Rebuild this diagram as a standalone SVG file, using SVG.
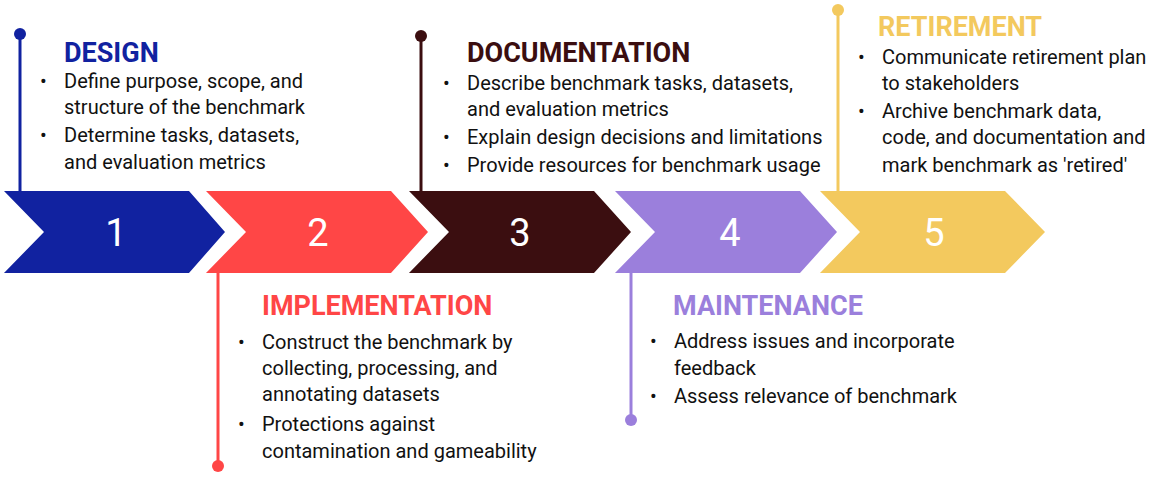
<svg xmlns="http://www.w3.org/2000/svg" width="1151" height="478" viewBox="0 0 1151 478">
<style>
.t{font-family:Roboto,"Liberation Sans",sans-serif;font-weight:bold;font-size:27px}
.b{font-family:Roboto,"Liberation Sans",sans-serif;font-size:20px;fill:#111}
.n{font-family:Roboto,"Liberation Sans",sans-serif;font-size:38px;fill:#fff;text-anchor:middle}
</style>
<rect width="1151" height="478" fill="#fff"/>
<g id="connectors" stroke-width="3">
<line x1="20" y1="34" x2="20" y2="191" stroke="#1122a0"/><circle cx="20" cy="34" r="6" fill="#1122a0"/>
<line x1="218" y1="273" x2="218" y2="466" stroke="#ff4646"/><circle cx="218" cy="466" r="6" fill="#ff4646"/>
<line x1="421" y1="36" x2="421" y2="191" stroke="#3b0e10"/><circle cx="421" cy="36" r="6" fill="#3b0e10"/>
<line x1="631" y1="273" x2="631" y2="420" stroke="#9b7fdc"/><circle cx="631" cy="420" r="6" fill="#9b7fdc"/>
<line x1="838" y1="10" x2="838" y2="191" stroke="#f3c95e"/><circle cx="838" cy="10" r="6" fill="#f3c95e"/>
</g>
<g id="step1"><polygon points="4,191 189,191 225,232 189,273 4,273 44,232" fill="#1122a0"/><text class="n" x="116" y="246">1</text>
<text class="t" x="64" y="62" fill="#1122a0">DESIGN</text>
<text class="b"><tspan x="40" y="88">•</tspan><tspan x="64" y="88">Define purpose, scope, and</tspan><tspan x="64" y="114">structure of the benchmark</tspan><tspan x="40" y="142">•</tspan><tspan x="64" y="142">Determine tasks, datasets,</tspan><tspan x="64" y="169">and evaluation metrics</tspan></text></g>
<g id="step2"><polygon points="206,191 391,191 428,232 391,273 206,273 246,232" fill="#ff4646"/><text class="n" x="318" y="246">2</text>
<text class="t" x="262" y="315" fill="#ff4646">IMPLEMENTATION</text>
<text class="b"><tspan x="238" y="349">•</tspan><tspan x="262" y="349">Construct the benchmark by</tspan><tspan x="262" y="375">collecting, processing, and</tspan><tspan x="262" y="401">annotating datasets</tspan><tspan x="238" y="431">•</tspan><tspan x="262" y="431">Protections against</tspan><tspan x="262" y="458">contamination and gameability</tspan></text></g>
<g id="step3"><polygon points="409,191 594,191 631,232 594,273 409,273 449,232" fill="#3b0e10"/><text class="n" x="520" y="246">3</text>
<text class="t" x="467" y="62" fill="#3b0e10">DOCUMENTATION</text>
<text class="b"><tspan x="443" y="90">•</tspan><tspan x="467" y="90">Describe benchmark tasks, datasets,</tspan><tspan x="467" y="116">and evaluation metrics</tspan><tspan x="443" y="144">•</tspan><tspan x="467" y="144">Explain design decisions and limitations</tspan><tspan x="443" y="172">•</tspan><tspan x="467" y="172">Provide resources for benchmark usage</tspan></text></g>
<g id="step4"><polygon points="615,191 800,191 837,232 800,273 615,273 655,232" fill="#9b7fdc"/><text class="n" x="730" y="246">4</text>
<text class="t" x="673" y="315" fill="#9b7fdc">MAINTENANCE</text>
<text class="b"><tspan x="650" y="348">•</tspan><tspan x="674" y="348">Address issues and incorporate</tspan><tspan x="674" y="375">feedback</tspan><tspan x="650" y="403">•</tspan><tspan x="674" y="403">Assess relevance of benchmark</tspan></text></g>
<g id="step5"><polygon points="820,191 1005,191 1045,232 1005,273 820,273 860,232" fill="#f3c95e"/><text class="n" x="934" y="246">5</text>
<text class="t" x="878" y="36" fill="#f3c95e">RETIREMENT</text>
<text class="b"><tspan x="858" y="64">•</tspan><tspan x="882" y="64">Communicate retirement plan</tspan><tspan x="882" y="90">to stakeholders</tspan><tspan x="858" y="118">•</tspan><tspan x="882" y="118">Archive benchmark data,</tspan><tspan x="882" y="144">code, and documentation and</tspan><tspan x="882" y="172">mark benchmark as 'retired'</tspan></text></g>
</svg>
